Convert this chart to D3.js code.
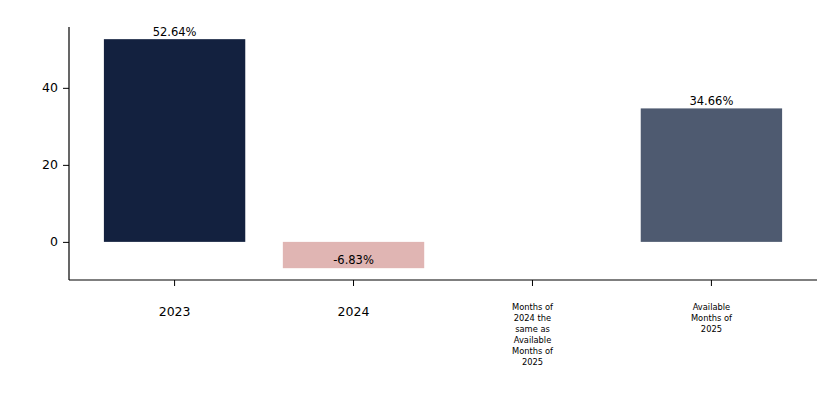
<!DOCTYPE html>
<html><head><meta charset="utf-8">
<script src="https://cdn.jsdelivr.net/npm/d3@7"></script>
<style>body{margin:0;background:#fff}text{font-family:"DejaVu Sans",sans-serif}</style>
</head><body><svg id="c" width="838" height="410"></svg>
<script>
var categories = ["2023", "2024", "Months of|2024 the|same as|Available|Months of|2025", "Available|Months of|2025"];
var values = [52.64, -6.83, null, 34.66];
var colors = ["#13213f", "#e0b5b3", null, "#4e5a70"];
var yTicks = [0, 20, 40];

var svg = d3.select("#c");
var x = d3.scaleBand().domain(categories).range([69, 817]).paddingInner(0.21).paddingOuter(0.195);
var y = d3.scaleLinear().domain([-9.9, 55.8]).range([280, 27]);

svg.selectAll("rect.bar").data(values.map(function (v, i) { return {v: v, c: categories[i], col: colors[i]}; })
  .filter(function (d) { return d.v !== null; }))
  .enter().append("rect")
  .attr("x", function (d) { return x(d.c); })
  .attr("width", x.bandwidth())
  .attr("y", function (d) { return y(Math.max(0, d.v)); })
  .attr("height", function (d) { return Math.abs(y(d.v) - y(0)); })
  .attr("fill", function (d) { return d.col; });

values.forEach(function (v, i) {
  if (v === null) return;
  svg.append("text")
    .attr("x", x(categories[i]) + x.bandwidth() / 2)
    .attr("y", v >= 0 ? y(v) - 3 : y(v) - 4)
    .attr("text-anchor", "middle").attr("font-size", 11.5)
    .text(v.toFixed(2) + "%");
});

var yAxis = svg.append("g").attr("transform", "translate(69,0)")
  .call(d3.axisLeft(y).tickValues(yTicks).tickSize(6).tickPadding(5));
yAxis.selectAll("text").attr("font-size", 12.5).attr("fill", "#000");
yAxis.select(".domain").attr("d", "M0," + y.range()[1] + "V" + y.range()[0]).attr("stroke-width", 1.2);

var xAxis = svg.append("g").attr("transform", "translate(0,280)")
  .call(d3.axisBottom(x).tickSize(6).tickFormat(""));
xAxis.select(".domain").attr("d", "M69,0H817").attr("stroke-width", 1.2);
xAxis.selectAll(".tick").each(function (c) {
  var lines = c.split("|");
  var t = d3.select(this).append("text").attr("fill", "#000").attr("text-anchor", "middle");
  if (lines.length === 1) {
    t.attr("y", 36).attr("font-size", 12.5).text(c);
  } else {
    lines.forEach(function (l, k) {
      t.append("tspan").attr("x", 0).attr("y", 30 + k * 11).attr("font-size", 8.3).text(l);
    });
  }
});
</script></body></html>
